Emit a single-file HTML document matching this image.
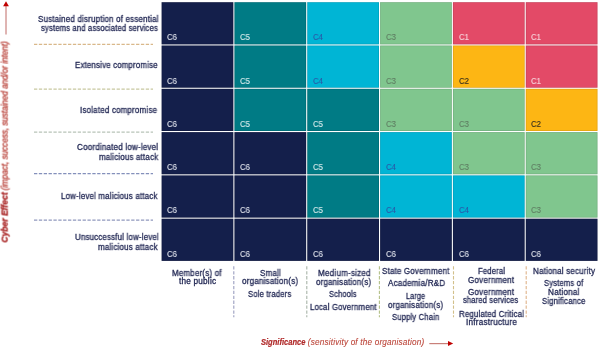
<!DOCTYPE html>
<html><head><meta charset="utf-8"><style>
html,body{margin:0;padding:0;background:#fff;width:600px;height:349px;overflow:hidden;position:relative}
body{font-family:"Liberation Sans",sans-serif;}
.rl{position:absolute;white-space:nowrap;font-size:8.2px;letter-spacing:0.22px;line-height:9px;color:#1f2552;right:441.7px;transform-origin:right center}
.cl{position:absolute;white-space:nowrap;font-size:8.6px;line-height:9px;transform-origin:left center}
.cc{position:absolute;text-align:center;white-space:nowrap;font-size:8.2px;letter-spacing:0.22px;line-height:9px;color:#1f2552;transform-origin:center center}
.vax{position:absolute;white-space:nowrap;line-height:9px;color:#a82424;font-style:italic;left:0;top:0;transform-origin:0 0;transform:translate(0.6px,242.6px) rotate(-90deg)}
.sig{position:absolute;white-space:nowrap;font-size:8.2px;line-height:9px;color:#bb4438;font-style:italic;left:260.8px}
svg{position:absolute;left:0;top:0}
.rl,.cl,.cc,.vax,.sig{will-change:transform}
.tl{position:absolute;white-space:nowrap;font-size:8.2px;letter-spacing:0.22px;line-height:9px;color:#1f2552;transform-origin:0 50%;will-change:transform;-webkit-text-stroke:0.3px currentColor}
.sig b{-webkit-text-stroke:0.2px currentColor}
.cl{-webkit-text-stroke:0.12px currentColor}
.vax{-webkit-text-stroke:0.3px currentColor}
</style></head><body>
<svg width="600" height="349" viewBox="0 0 600 349">
<rect x="161.60" y="2.20" width="71.73" height="42.20" fill="#141f4b"/><rect x="161.95" y="2.55" width="71.03" height="41.50" fill="none" stroke="#000" stroke-opacity="0.12" stroke-width="0.7"/><rect x="234.43" y="2.20" width="71.73" height="42.20" fill="#007b85"/><rect x="234.78" y="2.55" width="71.03" height="41.50" fill="none" stroke="#000" stroke-opacity="0.12" stroke-width="0.7"/><rect x="307.27" y="2.20" width="71.73" height="42.20" fill="#00b5d5"/><rect x="307.62" y="2.55" width="71.03" height="41.50" fill="none" stroke="#000" stroke-opacity="0.12" stroke-width="0.7"/><rect x="380.10" y="2.20" width="71.73" height="42.20" fill="#80c68e"/><rect x="380.45" y="2.55" width="71.03" height="41.50" fill="none" stroke="#000" stroke-opacity="0.12" stroke-width="0.7"/><rect x="452.93" y="2.20" width="71.73" height="42.20" fill="#e34a67"/><rect x="453.28" y="2.55" width="71.03" height="41.50" fill="none" stroke="#000" stroke-opacity="0.12" stroke-width="0.7"/><rect x="525.77" y="2.20" width="71.73" height="42.20" fill="#e34a67"/><rect x="526.12" y="2.55" width="71.03" height="41.50" fill="none" stroke="#000" stroke-opacity="0.12" stroke-width="0.7"/><rect x="161.60" y="45.50" width="71.73" height="42.20" fill="#141f4b"/><rect x="161.95" y="45.85" width="71.03" height="41.50" fill="none" stroke="#000" stroke-opacity="0.12" stroke-width="0.7"/><rect x="234.43" y="45.50" width="71.73" height="42.20" fill="#007b85"/><rect x="234.78" y="45.85" width="71.03" height="41.50" fill="none" stroke="#000" stroke-opacity="0.12" stroke-width="0.7"/><rect x="307.27" y="45.50" width="71.73" height="42.20" fill="#00b5d5"/><rect x="307.62" y="45.85" width="71.03" height="41.50" fill="none" stroke="#000" stroke-opacity="0.12" stroke-width="0.7"/><rect x="380.10" y="45.50" width="71.73" height="42.20" fill="#80c68e"/><rect x="380.45" y="45.85" width="71.03" height="41.50" fill="none" stroke="#000" stroke-opacity="0.12" stroke-width="0.7"/><rect x="452.93" y="45.50" width="71.73" height="42.20" fill="#fdb614"/><rect x="453.28" y="45.85" width="71.03" height="41.50" fill="none" stroke="#000" stroke-opacity="0.12" stroke-width="0.7"/><rect x="525.77" y="45.50" width="71.73" height="42.20" fill="#e34a67"/><rect x="526.12" y="45.85" width="71.03" height="41.50" fill="none" stroke="#000" stroke-opacity="0.12" stroke-width="0.7"/><rect x="161.60" y="88.80" width="71.73" height="42.20" fill="#141f4b"/><rect x="161.95" y="89.15" width="71.03" height="41.50" fill="none" stroke="#000" stroke-opacity="0.12" stroke-width="0.7"/><rect x="234.43" y="88.80" width="71.73" height="42.20" fill="#007b85"/><rect x="234.78" y="89.15" width="71.03" height="41.50" fill="none" stroke="#000" stroke-opacity="0.12" stroke-width="0.7"/><rect x="307.27" y="88.80" width="71.73" height="42.20" fill="#007b85"/><rect x="307.62" y="89.15" width="71.03" height="41.50" fill="none" stroke="#000" stroke-opacity="0.12" stroke-width="0.7"/><rect x="380.10" y="88.80" width="71.73" height="42.20" fill="#80c68e"/><rect x="380.45" y="89.15" width="71.03" height="41.50" fill="none" stroke="#000" stroke-opacity="0.12" stroke-width="0.7"/><rect x="452.93" y="88.80" width="71.73" height="42.20" fill="#80c68e"/><rect x="453.28" y="89.15" width="71.03" height="41.50" fill="none" stroke="#000" stroke-opacity="0.12" stroke-width="0.7"/><rect x="525.77" y="88.80" width="71.73" height="42.20" fill="#fdb614"/><rect x="526.12" y="89.15" width="71.03" height="41.50" fill="none" stroke="#000" stroke-opacity="0.12" stroke-width="0.7"/><rect x="161.60" y="132.10" width="71.73" height="42.20" fill="#141f4b"/><rect x="161.95" y="132.45" width="71.03" height="41.50" fill="none" stroke="#000" stroke-opacity="0.12" stroke-width="0.7"/><rect x="234.43" y="132.10" width="71.73" height="42.20" fill="#141f4b"/><rect x="234.78" y="132.45" width="71.03" height="41.50" fill="none" stroke="#000" stroke-opacity="0.12" stroke-width="0.7"/><rect x="307.27" y="132.10" width="71.73" height="42.20" fill="#007b85"/><rect x="307.62" y="132.45" width="71.03" height="41.50" fill="none" stroke="#000" stroke-opacity="0.12" stroke-width="0.7"/><rect x="380.10" y="132.10" width="71.73" height="42.20" fill="#00b5d5"/><rect x="380.45" y="132.45" width="71.03" height="41.50" fill="none" stroke="#000" stroke-opacity="0.12" stroke-width="0.7"/><rect x="452.93" y="132.10" width="71.73" height="42.20" fill="#80c68e"/><rect x="453.28" y="132.45" width="71.03" height="41.50" fill="none" stroke="#000" stroke-opacity="0.12" stroke-width="0.7"/><rect x="525.77" y="132.10" width="71.73" height="42.20" fill="#80c68e"/><rect x="526.12" y="132.45" width="71.03" height="41.50" fill="none" stroke="#000" stroke-opacity="0.12" stroke-width="0.7"/><rect x="161.60" y="175.40" width="71.73" height="42.20" fill="#141f4b"/><rect x="161.95" y="175.75" width="71.03" height="41.50" fill="none" stroke="#000" stroke-opacity="0.12" stroke-width="0.7"/><rect x="234.43" y="175.40" width="71.73" height="42.20" fill="#141f4b"/><rect x="234.78" y="175.75" width="71.03" height="41.50" fill="none" stroke="#000" stroke-opacity="0.12" stroke-width="0.7"/><rect x="307.27" y="175.40" width="71.73" height="42.20" fill="#007b85"/><rect x="307.62" y="175.75" width="71.03" height="41.50" fill="none" stroke="#000" stroke-opacity="0.12" stroke-width="0.7"/><rect x="380.10" y="175.40" width="71.73" height="42.20" fill="#00b5d5"/><rect x="380.45" y="175.75" width="71.03" height="41.50" fill="none" stroke="#000" stroke-opacity="0.12" stroke-width="0.7"/><rect x="452.93" y="175.40" width="71.73" height="42.20" fill="#00b5d5"/><rect x="453.28" y="175.75" width="71.03" height="41.50" fill="none" stroke="#000" stroke-opacity="0.12" stroke-width="0.7"/><rect x="525.77" y="175.40" width="71.73" height="42.20" fill="#80c68e"/><rect x="526.12" y="175.75" width="71.03" height="41.50" fill="none" stroke="#000" stroke-opacity="0.12" stroke-width="0.7"/><rect x="161.60" y="218.70" width="71.73" height="42.20" fill="#141f4b"/><rect x="161.95" y="219.05" width="71.03" height="41.50" fill="none" stroke="#000" stroke-opacity="0.12" stroke-width="0.7"/><rect x="234.43" y="218.70" width="71.73" height="42.20" fill="#141f4b"/><rect x="234.78" y="219.05" width="71.03" height="41.50" fill="none" stroke="#000" stroke-opacity="0.12" stroke-width="0.7"/><rect x="307.27" y="218.70" width="71.73" height="42.20" fill="#141f4b"/><rect x="307.62" y="219.05" width="71.03" height="41.50" fill="none" stroke="#000" stroke-opacity="0.12" stroke-width="0.7"/><rect x="380.10" y="218.70" width="71.73" height="42.20" fill="#141f4b"/><rect x="380.45" y="219.05" width="71.03" height="41.50" fill="none" stroke="#000" stroke-opacity="0.12" stroke-width="0.7"/><rect x="452.93" y="218.70" width="71.73" height="42.20" fill="#141f4b"/><rect x="453.28" y="219.05" width="71.03" height="41.50" fill="none" stroke="#000" stroke-opacity="0.12" stroke-width="0.7"/><rect x="525.77" y="218.70" width="71.73" height="42.20" fill="#141f4b"/><rect x="526.12" y="219.05" width="71.03" height="41.50" fill="none" stroke="#000" stroke-opacity="0.12" stroke-width="0.7"/><line x1="34" y1="44.4" x2="153" y2="44.4" stroke="#d9b88a" stroke-width="1.2" stroke-dasharray="3.3 1.56"/><line x1="34" y1="89.1" x2="153" y2="89.1" stroke="#c8c8a0" stroke-width="1.2" stroke-dasharray="3.3 1.56"/><line x1="34" y1="132.2" x2="153" y2="132.2" stroke="#b8c4b8" stroke-width="1.2" stroke-dasharray="3.3 1.56"/><line x1="34" y1="173.6" x2="153" y2="173.6" stroke="#8490bb" stroke-width="1.2" stroke-dasharray="3.3 1.56"/><line x1="34" y1="220.1" x2="153" y2="220.1" stroke="#9098bd" stroke-width="1.2" stroke-dasharray="3.3 1.56"/><line x1="233.8" y1="266.3" x2="233.8" y2="317.2" stroke="#9a9ec0" stroke-width="1.1" stroke-dasharray="3.3 1.6"/><line x1="306.8" y1="266.3" x2="306.8" y2="317.2" stroke="#a8b4a8" stroke-width="1.1" stroke-dasharray="3.3 1.6"/><line x1="379.4" y1="266.3" x2="379.4" y2="317.2" stroke="#b4c088" stroke-width="1.1" stroke-dasharray="3.3 1.6"/><line x1="453.5" y1="266.3" x2="453.5" y2="317.2" stroke="#d2c08a" stroke-width="1.1" stroke-dasharray="3.3 1.6"/><line x1="526.2" y1="266.3" x2="526.2" y2="317.2" stroke="#e0b48a" stroke-width="1.1" stroke-dasharray="3.3 1.6"/><line x1="6" y1="6" x2="6" y2="34.5" stroke="#c06a66" stroke-width="1"/><polygon points="6,1.3 3.1,6.3 8.9,6.3" fill="#c00000"/><line x1="429.3" y1="343.6" x2="449" y2="343.6" stroke="#c9807a" stroke-width="1.2"/><polygon points="453.2,343.6 448,341.1 448,346.1" fill="#c00000"/>
</svg>
<div class="cl" style="left:167.2px;top:33.22px;color:#dde0ea;transform:scaleX(0.9)">C6</div><div class="cl" style="left:240.0px;top:33.22px;color:#d3e9ea;transform:scaleX(0.9)">C5</div><div class="cl" style="left:312.9px;top:33.22px;color:#2a5aa8;transform:scaleX(0.9)">C4</div><div class="cl" style="left:385.7px;top:33.22px;color:#5f7f63;transform:scaleX(0.9)">C3</div><div class="cl" style="left:458.5px;top:33.22px;color:#f6d3da;transform:scaleX(0.9)">C1</div><div class="cl" style="left:531.4px;top:33.22px;color:#f6d3da;transform:scaleX(0.9)">C1</div><div class="cl" style="left:167.2px;top:76.52px;color:#dde0ea;transform:scaleX(0.9)">C6</div><div class="cl" style="left:240.0px;top:76.52px;color:#d3e9ea;transform:scaleX(0.9)">C5</div><div class="cl" style="left:312.9px;top:76.52px;color:#2a5aa8;transform:scaleX(0.9)">C4</div><div class="cl" style="left:385.7px;top:76.52px;color:#5f7f63;transform:scaleX(0.9)">C3</div><div class="cl" style="left:458.5px;top:76.52px;color:#2e2a1e;transform:scaleX(0.9)">C2</div><div class="cl" style="left:531.4px;top:76.52px;color:#f6d3da;transform:scaleX(0.9)">C1</div><div class="cl" style="left:167.2px;top:119.82px;color:#dde0ea;transform:scaleX(0.9)">C6</div><div class="cl" style="left:240.0px;top:119.82px;color:#d3e9ea;transform:scaleX(0.9)">C5</div><div class="cl" style="left:312.9px;top:119.82px;color:#d3e9ea;transform:scaleX(0.9)">C5</div><div class="cl" style="left:385.7px;top:119.82px;color:#5f7f63;transform:scaleX(0.9)">C3</div><div class="cl" style="left:458.5px;top:119.82px;color:#5f7f63;transform:scaleX(0.9)">C3</div><div class="cl" style="left:531.4px;top:119.82px;color:#2e2a1e;transform:scaleX(0.9)">C2</div><div class="cl" style="left:167.2px;top:163.12px;color:#dde0ea;transform:scaleX(0.9)">C6</div><div class="cl" style="left:240.0px;top:163.12px;color:#dde0ea;transform:scaleX(0.9)">C6</div><div class="cl" style="left:312.9px;top:163.12px;color:#d3e9ea;transform:scaleX(0.9)">C5</div><div class="cl" style="left:385.7px;top:163.12px;color:#2a5aa8;transform:scaleX(0.9)">C4</div><div class="cl" style="left:458.5px;top:163.12px;color:#5f7f63;transform:scaleX(0.9)">C3</div><div class="cl" style="left:531.4px;top:163.12px;color:#5f7f63;transform:scaleX(0.9)">C3</div><div class="cl" style="left:167.2px;top:206.42px;color:#dde0ea;transform:scaleX(0.9)">C6</div><div class="cl" style="left:240.0px;top:206.42px;color:#dde0ea;transform:scaleX(0.9)">C6</div><div class="cl" style="left:312.9px;top:206.42px;color:#d3e9ea;transform:scaleX(0.9)">C5</div><div class="cl" style="left:385.7px;top:206.42px;color:#2a5aa8;transform:scaleX(0.9)">C4</div><div class="cl" style="left:458.5px;top:206.42px;color:#2a5aa8;transform:scaleX(0.9)">C4</div><div class="cl" style="left:531.4px;top:206.42px;color:#5f7f63;transform:scaleX(0.9)">C3</div><div class="cl" style="left:167.2px;top:249.72px;color:#dde0ea;transform:scaleX(0.9)">C6</div><div class="cl" style="left:240.0px;top:249.72px;color:#dde0ea;transform:scaleX(0.9)">C6</div><div class="cl" style="left:312.9px;top:249.72px;color:#dde0ea;transform:scaleX(0.9)">C6</div><div class="cl" style="left:385.7px;top:249.72px;color:#dde0ea;transform:scaleX(0.9)">C6</div><div class="cl" style="left:458.5px;top:249.72px;color:#dde0ea;transform:scaleX(0.9)">C6</div><div class="cl" style="left:531.4px;top:249.72px;color:#dde0ea;transform:scaleX(0.9)">C6</div><div class="tl" style="left:37.90px;top:15.11px;transform:scaleX(0.9640)">Sustained disruption of essential</div><div class="tl" style="left:40.50px;top:24.11px;transform:scaleX(0.9244)">systems and associated services</div><div class="tl" style="left:74.50px;top:61.11px;transform:scaleX(0.9540)">Extensive compromise</div><div class="tl" style="left:80.10px;top:106.11px;transform:scaleX(0.9675)">Isolated compromise</div><div class="tl" style="left:77.00px;top:143.11px;transform:scaleX(0.9759)">Coordinated low-level</div><div class="tl" style="left:98.50px;top:153.11px;transform:scaleX(0.9597)">malicious attack</div><div class="tl" style="left:61.00px;top:192.11px;transform:scaleX(0.9574)">Low-level malicious attack</div><div class="tl" style="left:74.70px;top:233.11px;transform:scaleX(0.9575)">Unsuccessful low-level</div><div class="tl" style="left:98.00px;top:243.11px;transform:scaleX(0.9677)">malicious attack</div><div class="tl" style="left:172.00px;top:269.11px;transform:scaleX(0.9692)">Member(s) of</div><div class="tl" style="left:178.70px;top:277.11px;transform:scaleX(1.0000)">the public</div><div class="tl" style="left:259.60px;top:269.11px;transform:scaleX(0.9714)">Small</div><div class="tl" style="left:242.20px;top:277.11px;transform:scaleX(0.9789)">organisation(s)</div><div class="tl" style="left:248.20px;top:290.11px;transform:scaleX(0.9277)">Sole traders</div><div class="tl" style="left:317.60px;top:269.11px;transform:scaleX(0.9849)">Medium-sized</div><div class="tl" style="left:316.20px;top:278.11px;transform:scaleX(0.9614)">organisation(s)</div><div class="tl" style="left:329.40px;top:290.11px;transform:scaleX(0.9065)">Schools</div><div class="tl" style="left:310.00px;top:303.11px;transform:scaleX(0.9465)">Local Government</div><div class="tl" style="left:381.75px;top:267.11px;transform:scaleX(0.9643)">State Government</div><div class="tl" style="left:387.60px;top:279.11px;transform:scaleX(0.9767)">Academia/R&amp;D</div><div class="tl" style="left:406.20px;top:292.11px;transform:scaleX(0.8727)">Large</div><div class="tl" style="left:388.40px;top:301.11px;transform:scaleX(0.9614)">organisation(s)</div><div class="tl" style="left:392.00px;top:313.11px;transform:scaleX(0.9255)">Supply Chain</div><div class="tl" style="left:477.65px;top:267.11px;transform:scaleX(0.9293)">Federal</div><div class="tl" style="left:468.25px;top:276.11px;transform:scaleX(0.9798)">Government</div><div class="tl" style="left:468.25px;top:288.11px;transform:scaleX(0.9798)">Government</div><div class="tl" style="left:463.20px;top:296.11px;transform:scaleX(0.9131)">shared services</div><div class="tl" style="left:458.90px;top:310.11px;transform:scaleX(0.9500)">Regulated Critical</div><div class="tl" style="left:466.00px;top:318.11px;transform:scaleX(0.9951)">Infrastructure</div><div class="tl" style="left:533.10px;top:267.11px;transform:scaleX(0.9672)">National security</div><div class="tl" style="left:544.20px;top:279.11px;transform:scaleX(0.9209)">Systems of</div><div class="tl" style="left:548.20px;top:288.11px;transform:scaleX(0.9906)">National</div><div class="tl" style="left:542.20px;top:297.11px;transform:scaleX(0.9298)">Significance</div><div class="vax" style="font-size:8.2px"><b style="color:#a82222;display:inline-block;transform:scaleX(1.045);transform-origin:0 50%;margin-right:2px">Cyber Effect</b><span style="color:#b84038;letter-spacing:-0.05px"> (impact, success, sustained and/or intent)</span></div><div class="sig" style="top:337.66px"><b style="color:#b02a2a;display:inline-block;transform:scaleX(0.92);transform-origin:0 50%;margin-right:-3.9px">Significance</b><span style="letter-spacing:0.18px;-webkit-text-stroke:0.1px currentColor"> (sensitivity of the organisation)</span></div>
</body></html>
